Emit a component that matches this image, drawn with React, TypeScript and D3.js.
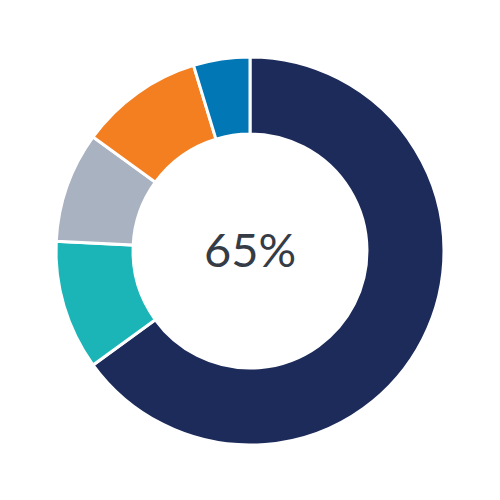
import React, { useRef, useEffect } from 'react';
import * as d3 from 'd3';

// segment values in percent, clockwise from 12 o'clock
const labels = ['Main', 'Teal', 'Gray', 'Orange', 'Blue'];
const values = [65, 10.8, 9.2, 10.3, 4.7];
const colors = ['#1c2b5a', '#1bb5b8', '#a9b2c1', '#f37f21', '#0277b5'];
const centerLabel = '65%';

const width = 500;
const height = 500;

const App: React.FC = () => {
  const ref = useRef<SVGSVGElement | null>(null);

  useEffect(() => {
    if (!ref.current) return;
    const svg = d3.select(ref.current);
    svg.selectAll('*').remove();

    const cx = 250;
    const cy = 251;
    const outer = 194;
    const inner = 117;

    const pie = d3.pie<number>().sort(null).value((d: number) => d);
    const arc = d3.arc<d3.PieArcDatum<number>>().innerRadius(inner).outerRadius(outer);

    const g = svg.append('g').attr('transform', `translate(${cx},${cy})`);

    g.selectAll('path')
      .data(pie(values))
      .join('path')
      .attr('d', arc)
      .attr('fill', (_d: any, i: number) => colors[i])
      .attr('stroke', '#ffffff')
      .attr('stroke-width', 3)
      .append('title')
      .text((_d: any, i: number) => labels[i]);

    g.append('text')
      .attr('x', 0)
      .attr('y', 16)
      .attr('text-anchor', 'middle')
      .attr('font-family', 'Lato, "Open Sans", sans-serif')
      .attr('font-weight', 400)
      .attr('font-size', 47)
      .attr('fill', '#363c45')
      .text(centerLabel);
  }, []);

  return (
    <div style={{ position: 'fixed', left: 0, top: 0, width, height, background: '#fff' }}>
      <svg ref={ref} width={width} height={height} />
    </div>
  );
};

export default App;
